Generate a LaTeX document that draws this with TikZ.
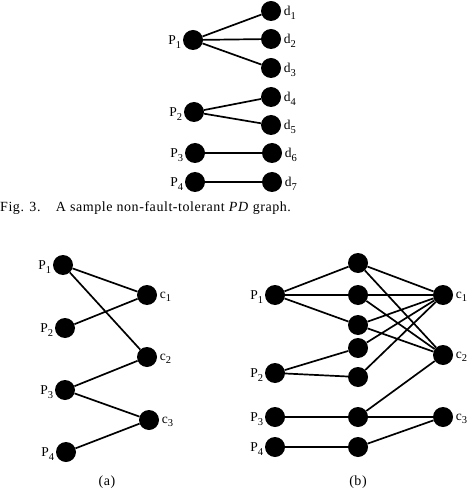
\documentclass[tikz,border=0pt]{standalone}
\usepackage{fontspec}
\setmainfont{Liberation Serif}
\newfontfamily\captfont[LetterSpace=4]{Liberation Serif}
\newcommand{\lbl}[2]{#1\raisebox{-3.5pt}{\fontsize{10.5}{11}\selectfont #2}}
\begin{document}
\begin{tikzpicture}[x=1pt,y=-1pt,
  dot/.style={circle,fill=black,inner sep=0pt,minimum size=20pt},
  edge/.style={line width=1.7pt},
  lab/.style={font=\fontsize{13.5}{14}\selectfont,inner sep=0.5pt},
  capt/.style={font=\captfont\fontsize{14}{16}\selectfont,inner sep=0pt}]
\useasboundingbox (0,0) rectangle (474,502);
% ---- Fig 3 ----
\node[dot] (tp1) at (193,40) {};
\node[dot] (tp2) at (194,112) {};
\node[dot] (tp3) at (195,153) {};
\node[dot] (tp4) at (195,182) {};
\node[dot] (d1) at (271,11) {};
\node[dot] (d2) at (271,39) {};
\node[dot] (d3) at (271,68) {};
\node[dot] (d4) at (271,97) {};
\node[dot] (d5) at (271,125) {};
\node[dot] (d6) at (272,153) {};
\node[dot] (d7) at (272,182) {};
\foreach \n/\t in {tp1/1,tp2/2,tp3/3,tp4/4}
  \node[lab,anchor=east] at ([xshift=-1pt,yshift=-2pt]\n.west) {\lbl{P}{\t}};
\foreach \n/\t in {d1/1,d2/2,d3/3,d4/4,d5/5,d6/6,d7/7}
  \node[lab,anchor=west] at ([xshift=2pt,yshift=-2pt]\n.east) {\lbl{d}{\t}};
\draw[edge] (tp1) -- (d1) (tp1) -- (d2) (tp1) -- (d3)
            (tp2) -- (d4) (tp2) -- (d5) (tp3) -- (d6) (tp4) -- (d7);
\node[capt,anchor=base west] (cap) at (0,212) {Fig. 3.\hspace{1.1em}A sample non-fault-tolerant \textit{PD} graph.};
% ---- (a) ----
\node[dot] (ap1) at (63,265) {};
\node[dot] (ap2) at (65,328) {};
\node[dot] (ap3) at (65,390) {};
\node[dot] (ap4) at (66,452) {};
\node[dot] (ac1) at (147,295) {};
\node[dot] (ac2) at (147,357) {};
\node[dot] (ac3) at (149,420) {};
\foreach \n/\t in {ap1/1,ap2/2,ap3/3,ap4/4}
  \node[lab,anchor=east] at ([xshift=-1pt,yshift=-2pt]\n.west) {\lbl{P}{\t}};
\foreach \n/\t in {ac1/1,ac2/2,ac3/3}
  \node[lab,anchor=west] at ([xshift=2pt,yshift=-2pt]\n.east) {\lbl{c}{\t}};
\draw[edge] (ap1) -- (ac1) (ap1) -- (ac2) (ap2) -- (ac1)
            (ap3) -- (ac2) (ap3) -- (ac3) (ap4) -- (ac3);
\node[capt] (la) at (107,482) {(a)};
% ---- (b) ----
\node[dot] (bp1) at (275,295) {};
\node[dot] (bp2) at (275,373) {};
\node[dot] (bp3) at (275,417) {};
\node[dot] (bp4) at (275,447) {};
\node[dot] (m1) at (358,263) {};
\node[dot] (m2) at (358,295) {};
\node[dot] (m3) at (358,325) {};
\node[dot] (m4) at (358,348) {};
\node[dot] (m5) at (358,377) {};
\node[dot] (m6) at (358,417) {};
\node[dot] (m7) at (358,447) {};
\node[dot] (bc1) at (443,295) {};
\node[dot] (bc2) at (443,355) {};
\node[dot] (bc3) at (443,417) {};
\foreach \n/\t in {bp1/1,bp2/2,bp3/3,bp4/4}
  \node[lab,anchor=east] at ([xshift=-1pt,yshift=-2pt]\n.west) {\lbl{P}{\t}};
\foreach \n/\t in {bc1/1,bc2/2,bc3/3}
  \node[lab,anchor=west] at ([xshift=2pt,yshift=-2pt]\n.east) {\lbl{c}{\t}};
\draw[edge] (bp1) -- (m1) (bp1) -- (m2) (bp1) -- (m3)
            (bp2) -- (m4) (bp2) -- (m5) (bp3) -- (m6) (bp4) -- (m7)
            (m1) -- (bc1) (m1) -- (bc2) (m2) -- (bc1) (m2) -- (bc2)
            (m3) -- (bc1) (m3) -- (bc2) (m4) -- (bc1) (m5) -- (bc1)
            (m6) -- (bc2) (m6) -- (bc3) (m7) -- (bc3);
\node[capt] (lb) at (358,482) {(b)};
\end{tikzpicture}
\end{document}
